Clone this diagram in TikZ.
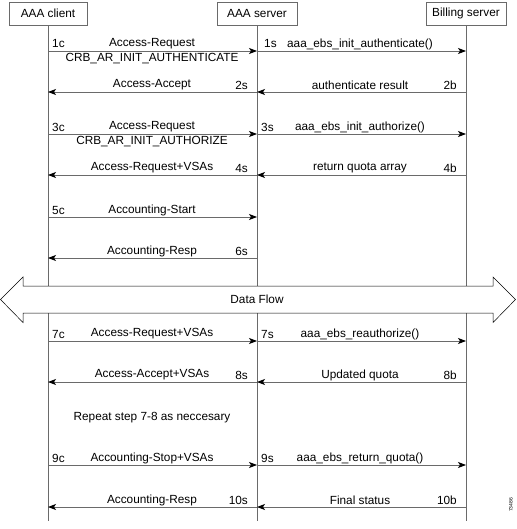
\documentclass[tikz,border=0pt]{standalone}
\usepackage{fontspec}
\setmainfont{Liberation Sans}
\usetikzlibrary{arrows.meta}
\definecolor{linegray}{HTML}{6A6A6A}
\begin{document}
\begin{tikzpicture}[x=1pt,y=-1pt,
  every node/.style={font=\fontsize{11.8}{13}\selectfont, inner sep=0pt},
  actor/.style={draw=linegray, line width=0.8pt, minimum width=#1, minimum height=23pt, inner sep=0pt},
  lifeline/.style={draw=linegray, line width=0.9pt},
  msgline/.style={draw=linegray, line width=0.8pt, -{Stealth[length=8pt,width=6pt,inset=2pt,color=black]}},
  lab/.style={},
  flow/.style={draw=black, line width=0.5pt, fill=white}]
\useasboundingbox (0,0) rectangle (516,529);
\fill[white] (0,0) rectangle (516,529);

% actors
\node[actor=78pt] (client) at (48,13.5) {AAA client};
\node[actor=80pt] (server) at (257,13.5) {AAA server};
\node[actor=80pt] (billing) at (466,13.5) {Billing server};

\coordinate (cend) at (48,521);
\coordinate (send) at (257,521);
\coordinate (bend) at (466,521);
\draw[lifeline] (client.south) -- (cend);
\draw[lifeline] (server.south) -- (send);
\draw[lifeline] (billing.south) -- (bend);

% message anchor points
\foreach \i/\y in {1/51,2/92,3/134,4/175,5/217,6/258,7/341,8/382,9/465,10/507}{
  \coordinate (c\i) at (48,\y);
  \coordinate (s\i) at (257,\y);
  \coordinate (b\i) at (466,\y);
}

% step 1
\draw[msgline] (c1) -- (s1);
\node[anchor=west] (l1c) at (52,44) {1c};
\node (m1a) at (152,44) {Access-Request};
\node (m1b) at (152,59) {CRB\_AR\_INIT\_AUTHENTICATE};
\draw[msgline] (s1) -- (b1);
\node[anchor=west] (l1s) at (264,44) {1s};
\node (m1s) at (360,44) {aaa\_ebs\_init\_authenticate()};

% step 2
\draw[msgline] (b2) -- (s2);
\node[anchor=east] (l2b) at (457,85) {2b};
\node (m2b) at (360,85) {authenticate result};
\draw[msgline] (s2) -- (c2);
\node[anchor=east] (l2s) at (248,85) {2s};
\node (m2s) at (152,85) {Access-Accept};

% step 3
\draw[msgline] (c3) -- (s3);
\node[anchor=west] (l3c) at (52,127) {3c};
\node (m3a) at (152,127) {Access-Request};
\node (m3b) at (152,142) {CRB\_AR\_INIT\_AUTHORIZE};
\draw[msgline] (s3) -- (b3);
\node[anchor=west] (l3s) at (261,127) {3s};
\node (m3s) at (360,127) {aaa\_ebs\_init\_authorize()};

% step 4
\draw[msgline] (b4) -- (s4);
\node[anchor=east] (l4b) at (457,168) {4b};
\node (m4b) at (360,168) {return quota array};
\draw[msgline] (s4) -- (c4);
\node[anchor=east] (l4s) at (248,168) {4s};
\node (m4s) at (152,168) {Access-Request+VSAs};

% step 5
\draw[msgline] (c5) -- (s5);
\node[anchor=west] (l5c) at (52,210) {5c};
\node (m5c) at (152,210) {Accounting-Start};

% step 6
\draw[msgline] (s6) -- (c6);
\node[anchor=east] (l6s) at (248,251) {6s};
\node (m6s) at (152,251) {Accounting-Resp};

% data flow
\draw[flow] (0.5,299.5) -- (23,277) -- (23,286) -- (493,286) -- (493,277) -- (515.5,299.5)
  -- (493,322.5) -- (493,313) -- (23,313) -- (23,322.5) -- cycle;
\node (df) at (257,299.5) {Data Flow};

% step 7
\draw[msgline] (c7) -- (s7);
\node[anchor=west] (l7c) at (52,334) {7c};
\node (m7c) at (152,334) {Access-Request+VSAs};
\draw[msgline] (s7) -- (b7);
\node[anchor=west] (l7s) at (261,334) {7s};
\node (m7s) at (360,334) {aaa\_ebs\_reauthorize()};

% step 8
\draw[msgline] (b8) -- (s8);
\node[anchor=east] (l8b) at (457,375) {8b};
\node (m8b) at (360,375) {Updated quota};
\draw[msgline] (s8) -- (c8);
\node[anchor=east] (l8s) at (248,375) {8s};
\node (m8s) at (152,375) {Access-Accept+VSAs};

\node (rep) at (152,418) {Repeat step 7-8 as neccesary};

% step 9
\draw[msgline] (c9) -- (s9);
\node[anchor=west] (l9c) at (52,458) {9c};
\node (m9c) at (152,458) {Accounting-Stop+VSAs};
\draw[msgline] (s9) -- (b9);
\node[anchor=west] (l9s) at (261,458) {9s};
\node (m9s) at (360,458) {aaa\_ebs\_return\_quota()};

% step 10
\draw[msgline] (b10) -- (s10);
\node[anchor=east] (l10b) at (457,500) {10b};
\node (m10b) at (360,500) {Final status};
\draw[msgline] (s10) -- (c10);
\node[anchor=east] (l10s) at (248,500) {10s};
\node (m10s) at (152,500) {Accounting-Resp};

\node[rotate=90, font=\fontsize{5}{6}\selectfont] (fig) at (511,505) {73486};
\end{tikzpicture}
\end{document}
